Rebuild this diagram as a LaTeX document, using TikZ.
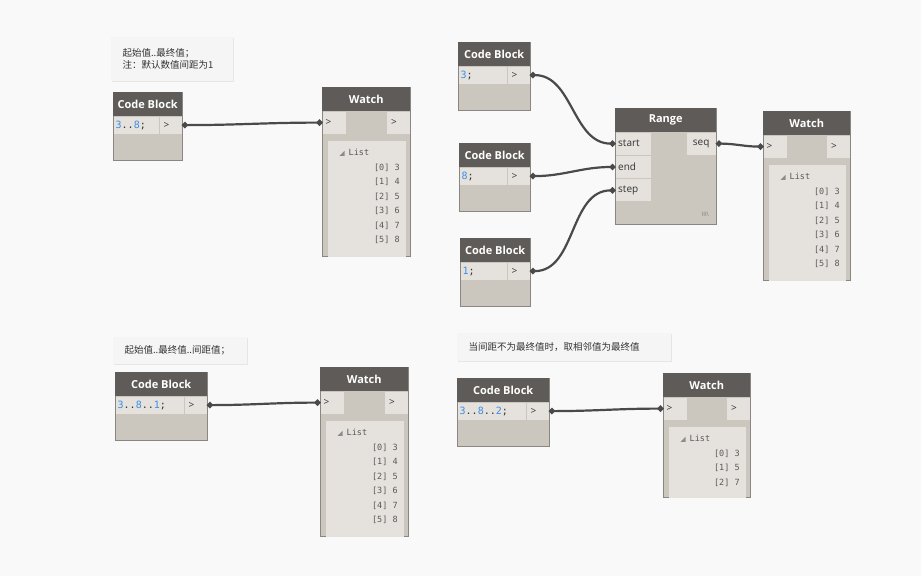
\documentclass[tikz,border=0pt]{standalone}
\usepackage{fontspec}
\setmainfont{Open Sans}
\setmonofont{DejaVu Sans Mono}
\newfontfamily\cjk{Noto Sans CJK SC}
\usetikzlibrary{arrows.meta,shadows}
\definecolor{hdrgray}{HTML}{5E5B58}
\definecolor{bodygray}{HTML}{CBC6BE}
\definecolor{cellgray}{HTML}{E5E2DD}
\definecolor{edgegray}{HTML}{8A8782}
\definecolor{numblue}{HTML}{3A8EE6}
\definecolor{bggray}{HTML}{F9F9F9}
\definecolor{wiregray}{HTML}{4A4A4A}
\tikzset{
  hdr/.style={fill=hdrgray, text=white, font=\bfseries\fontsize{11}{12}\selectfont, minimum height=24pt, inner sep=0pt, anchor=north west},
  body/.style={fill=bodygray, draw=edgegray, inner sep=0pt, anchor=north west},
  cell/.style={fill=cellgray, inner sep=0pt, minimum height=17pt, font=\fontsize{10}{11}\selectfont, text=black!80},
  panel/.style={fill=cellgray, inner sep=0pt, anchor=north west},
  item/.style={font=\ttfamily\fontsize{8.5}{9}\selectfont, text=black!65, inner sep=0pt, anchor=east},
  note/.style={fill=gray!8, drop shadow={opacity=0.15, shadow xshift=0.5pt, shadow yshift=-1pt}, inner sep=0pt, anchor=north west},
  wire/.style={draw=wiregray, line width=2.2pt, {Circle[length=6pt]}-{Circle[length=6pt]}}
}
\newcommand{\nb}[1]{\textcolor{numblue}{#1}}
% code block: id, x, y, width, cell width, code
\newcommand{\cblock}[6]{
  \node[body, minimum width=#4pt, minimum height=68pt] (#1b) at (#2,#3) {};
  \node[hdr, minimum width=#4pt] (#1h) at (#2,#3) {Code Block};
  \node[cell, anchor=north west, minimum width=#5pt, text width=#5pt-4pt, align=left] (#1c) at ([xshift=0.5pt]#1h.south west) {\ttfamily #6};
  \node[cell, anchor=north east, minimum width=22pt, text width=14pt, align=left] (#1) at ([xshift=-0.5pt]#1h.south east) {>};
}
% watch: id, x, y, width, height, values
\newcommand{\watch}[6]{
  \node[body, minimum width=#4pt, minimum height=#5pt] (#1b) at (#2,#3) {};
  \node[hdr, minimum width=#4pt] (#1h) at (#2,#3) {Watch};
  \node[cell, anchor=north west, minimum width=23pt, minimum height=22pt, text width=17pt, align=left] (#1) at ([xshift=0.5pt]#1h.south west) {>};
  \node[cell, anchor=north east, minimum width=23pt, minimum height=22pt, text width=14pt, align=left] (#1o) at ([xshift=-0.5pt]#1h.south east) {>};
  \node[panel, minimum width=#4pt-10pt, minimum height=#5pt-53pt] (#1p) at ([xshift=5pt, yshift=-7pt]#1.south west) {};
  \node[item, anchor=west] (#1l) at ([xshift=21pt, yshift=-12pt]#1p.north west) {List};
  \fill[black!45] ([xshift=-4pt,yshift=-3pt]#1l.west) -- ([xshift=-9pt,yshift=-3pt]#1l.west) -- ([xshift=-4pt,yshift=2pt]#1l.west) -- cycle;
  \foreach \v [count=\i from 0] in {#6}
    \node[item] at ([xshift=-6pt, yshift=-27pt-14.5pt*\i]#1p.north east) {[\i] \v};
}

\begin{document}
\begin{tikzpicture}[x=1pt, y=-1pt]
  \fill[bggray] (0,0) rectangle (921,576);
  \useasboundingbox (0,0) rectangle (921,576);

  % top left
  \node[note, minimum width=122pt, minimum height=44pt] (n1) at (111,37) {};
  \node[anchor=north west, align=left, font=\cjk\fontsize{9.5}{12}\selectfont, text=black!80] (n1t) at (119,45) {起始值..最终值；\\注：默认数值间距为1};
  \cblock{cb1}{113}{92}{69}{45}{\nb{3}..\nb{8};}
  \watch{w1}{322}{87}{88}{169}{3,4,5,6,7,8}
  \draw[wire] (cb1.east) to[out=0, in=180] (w1.west);

  % top right
  \cblock{cbs}{458}{42}{72}{48}{\nb{3};}
  \cblock{cbe}{459}{143}{71}{47}{\nb{8};}
  \cblock{cbt}{460}{238}{70}{46}{\nb{1};}
  \node[body, minimum width=101pt, minimum height=116pt] (rgb) at (615,108) {};
  \node[hdr, minimum width=101pt] (rgh) at (615,108) {Range};
  \node[cell, anchor=north west, minimum width=35pt, minimum height=22pt, text width=30pt, align=left] (start) at ([xshift=0.5pt]rgh.south west) {start};
  \node[cell, anchor=north west, minimum width=35pt, minimum height=22pt, text width=30pt, align=left] (end) at ([yshift=-1pt]start.south west) {end};
  \node[cell, anchor=north west, minimum width=35pt, minimum height=22pt, text width=30pt, align=left] (step) at ([yshift=-1pt]end.south west) {step};
  \node[cell, anchor=north east, minimum width=29pt, minimum height=22pt] (seq) at ([xshift=-0.5pt]rgh.south east) {seq};
  \node[font=\fontsize{6}{7}\selectfont, text=black!50, anchor=south east] (lace) at ([xshift=-4pt, yshift=4pt]rgb.south east) {III\textbackslash};
  \watch{w2}{763}{111}{87}{169}{3,4,5,6,7,8}
  \draw[wire] (cbs.east) to[out=0, in=180] (start.west);
  \draw[wire] (cbe.east) to[out=0, in=180] (end.west);
  \draw[wire] (cbt.east) to[out=0, in=180] (step.west);
  \draw[wire] (seq.east) to[out=0, in=180] (w2.west);

  % bottom left
  \node[note, minimum width=134pt, minimum height=27pt] (n2) at (113,337) {};
  \node[anchor=west, font=\cjk\fontsize{9.5}{11}\selectfont, text=black!80] (n2t) at (121,350.5) {起始值..最终值..间距值；};
  \cblock{cb2}{115}{372}{92}{68}{\nb{3}..\nb{8}..\nb{1};}
  \watch{w3}{320}{367}{88}{169}{3,4,5,6,7,8}
  \draw[wire] (cb2.east) to[out=0, in=180] (w3.west);

  % bottom right
  \node[note, minimum width=214pt, minimum height=28pt] (n3) at (457,333) {};
  \node[anchor=west, font=\cjk\fontsize{9.5}{11}\selectfont, text=black!80] (n3t) at (465,347) {当间距不为最终值时，取相邻值为最终值};
  \cblock{cb3}{457}{378}{92}{68}{\nb{3}..\nb{8}..\nb{2};}
  \watch{w4}{663}{373}{87}{124}{3,5,7}
  \draw[wire] (cb3.east) to[out=0, in=180] (w4.west);
\end{tikzpicture}
\end{document}
